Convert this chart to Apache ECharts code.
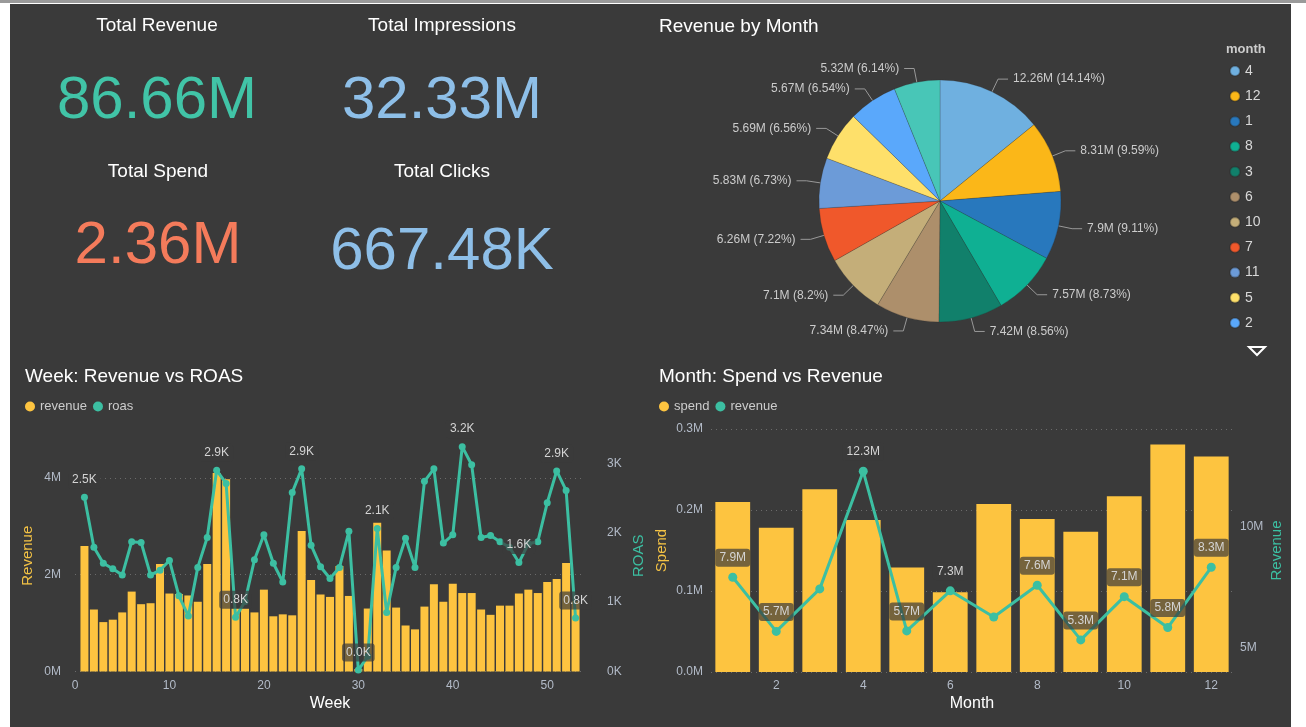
<!DOCTYPE html>
<html><head><meta charset="utf-8">
<script src="https://cdn.jsdelivr.net/npm/echarts@6/dist/echarts.min.js"></script>
<style>
html,body{margin:0;padding:0;background:#fff;width:1306px;height:727px;overflow:hidden}
#topline{position:absolute;left:0;top:0;width:1306px;height:3px;background:#9a9a9a}
#panel{position:absolute;left:10px;top:4px;width:1281px;height:723px;background:#3a3a3a}
#chart{position:absolute;left:0;top:0;width:1306px;height:727px}
</style></head><body>
<div id="topline"></div><div id="panel"></div><div id="chart"></div>
<script>
// ---------- data ----------
const kpiTitles = ['Total Revenue', 'Total Impressions', 'Total Spend', 'Total Clicks'];
const kpiValues = ['86.66M', '32.33M', '2.36M', '667.48K'];

const weeks = [1,2,3,4,5,6,7,8,9,10,11,12,13,14,15,16,17,18,19,20,21,22,23,24,25,26,27,28,29,30,31,32,33,34,35,36,37,38,39,40,41,42,43,44,45,46,47,48,49,50,51,52,53];
const weekRevenue = [2.59,1.28,1.02,1.07,1.22,1.65,1.39,1.41,2.22,1.61,1.60,1.57,1.44,2.22,4.10,3.97,1.30,1.30,1.22,1.69,1.14,1.18,1.16,2.90,1.89,1.59,1.54,2.18,1.56,0.05,1.30,3.07,2.50,1.32,0.95,0.87,1.34,1.80,1.44,1.81,1.62,1.62,1.28,1.17,1.36,1.36,1.61,1.69,1.62,1.85,1.91,2.24,1.45];
const weekRoas = [2.51,1.79,1.56,1.48,1.39,1.87,1.86,1.39,1.46,1.60,1.09,0.80,1.50,1.93,2.90,2.71,0.78,1.01,1.61,1.97,1.56,1.29,2.58,2.92,1.82,1.51,1.34,1.50,2.02,0.02,0.22,2.06,0.85,1.50,1.92,1.50,2.74,2.92,1.85,1.97,3.24,2.98,1.93,1.96,1.87,1.79,1.57,1.84,1.87,2.43,2.89,2.61,0.77];
const roasLabelWeeks = [1,15,17,24,30,32,41,47,51,53];

const months = ['1','2','3','4','5','6','7','8','9','10','11','12'];
const monthSpend = [0.2098,0.178,0.2257,0.1878,0.129,0.0984,0.2073,0.189,0.173,0.2171,0.2808,0.2661];
const monthRevenue = [7.9,5.67,7.42,12.26,5.69,7.34,6.26,7.57,5.32,7.1,5.83,8.31];
const monthUnlabeled = ['3','7'];

const pieMonths = ['4','12','1','8','3','6','10','7','11','5','2','9'];
const pieRevenue = [12.26,8.31,7.9,7.57,7.42,7.34,7.1,6.26,5.83,5.69,5.67,5.32];
const piePct = [14.14,9.59,9.11,8.73,8.56,8.47,8.2,7.22,6.73,6.56,6.54,6.14];
const pieColors = ['#6fb0e0','#fbb718','#2878bd','#0fb093','#11806b','#ad8f6b','#c4ae79','#f0582b','#6c9bd8','#fee06a','#5aa8fb','#48c6b7'];
const pieLegendMonths = ['4','12','1','8','3','6','10','7','11','5','2'];

// ---------- styles ----------
const FONT = "'Liberation Sans', Arial, sans-serif";
const YEL = '#fdc440', TEAL = '#3cbfa2', AX = '#b3bbc8', TXT = '#cccccc';
const kpiColors = ['#41c4a7', '#8ebfe8', '#f47b5b', '#8ebfe8'];
const kpiPos = [[157, 26, 101], [442, 26, 101], [158, 172, 246], [442, 172, 252]];
const labelBox = 'rgba(58,58,58,0.7)';

const graphics = [];
kpiTitles.forEach((t, i) => {
  graphics.push({type: 'text', x: kpiPos[i][0], y: kpiPos[i][1],
    style: {text: t, fill: '#ffffff', font: '19px ' + FONT, align: 'center', verticalAlign: 'middle'}});
  graphics.push({type: 'text', x: kpiPos[i][0], y: kpiPos[i][2],
    style: {text: kpiValues[i], fill: kpiColors[i], font: '60px ' + FONT, align: 'center', verticalAlign: 'middle'}});
});
graphics.push({type: 'text', x: 1226, y: 49, style: {text: 'month', fill: TXT, font: 'bold 13px ' + FONT, verticalAlign: 'middle'}});
graphics.push({type: 'polygon', shape: {points: [[1249, 347], [1265, 347], [1257, 355]]},
  style: {fill: 'none', stroke: '#ffffff', lineWidth: 2}});

const chart = echarts.init(document.getElementById('chart'), null, {renderer: 'canvas'});

const axisLabelBase = {color: AX, fontSize: 12, fontFamily: FONT};
const dotted = {show: true, lineStyle: {type: [1, 4], color: 'rgba(255,255,255,0.25)', width: 1}};
const noLine = {show: false};

const option = {
  backgroundColor: 'transparent',
  textStyle: {fontFamily: FONT},
  animation: false,
  graphic: graphics,
  title: [
    {text: 'Revenue by Month', left: 654, top: 12, textStyle: {color: '#fff', fontSize: 19, fontWeight: 'normal', fontFamily: FONT}},
    {text: 'Week: Revenue vs ROAS', left: 20, top: 362, textStyle: {color: '#fff', fontSize: 19, fontWeight: 'normal', fontFamily: FONT}},
    {text: 'Month: Spend vs Revenue', left: 654, top: 362, textStyle: {color: '#fff', fontSize: 19, fontWeight: 'normal', fontFamily: FONT}}
  ],
  legend: [
    {left: 20, top: 395, itemWidth: 10, itemHeight: 10, itemGap: 6, icon: 'circle',
      textStyle: {color: TXT, fontSize: 13, fontFamily: FONT},
      data: [{name: 'revenue', itemStyle: {color: YEL}}, {name: 'roas', itemStyle: {color: TEAL}}]},
    {left: 654, top: 395, itemWidth: 10, itemHeight: 10, itemGap: 6, icon: 'circle',
      textStyle: {color: TXT, fontSize: 13, fontFamily: FONT},
      data: [{name: 'spend', itemStyle: {color: YEL}}, {name: 'revenue', itemStyle: {color: TEAL}}]},
    {orient: 'vertical', left: 1224, top: 59, itemWidth: 10, itemHeight: 10, itemGap: 11.2, icon: 'circle',
      textStyle: {color: '#d8d8d8', fontSize: 14, fontFamily: FONT},
      data: pieLegendMonths.map(m => ({name: m, itemStyle: {color: pieColors[pieMonths.indexOf(m)]}}))}
  ],
  grid: [
    {left: 75, right: 721, top: 440, bottom: 55.5},
    {left: 711, right: 73, top: 429, bottom: 55}
  ],
  xAxis: [
    {type: 'value', gridIndex: 0, min: 0, max: 54, interval: 10,
      axisLine: noLine, axisTick: noLine, splitLine: noLine,
      axisLabel: Object.assign({}, axisLabelBase, {margin: 8, formatter: v => (v % 10 === 0 ? String(v) : '')}),
      name: 'Week', nameLocation: 'middle', nameGap: 24, nameTextStyle: {color: '#fff', fontSize: 16, fontFamily: FONT}},
    {type: 'category', gridIndex: 1, data: months,
      axisLine: noLine, axisTick: noLine,
      axisLabel: Object.assign({}, axisLabelBase, {margin: 8, interval: i => i % 2 === 1}),
      name: 'Month', nameLocation: 'middle', nameGap: 24, nameTextStyle: {color: '#fff', fontSize: 16, fontFamily: FONT}}
  ],
  yAxis: [
    {type: 'value', gridIndex: 0, min: 0, max: 4.78, interval: 2,
      axisLine: noLine, axisTick: noLine,
      axisLabel: Object.assign({}, axisLabelBase, {margin: 14, formatter: v => (Math.abs(v % 2) < 1e-9 ? v + 'M' : '')}),
      splitLine: Object.assign({}, dotted, {showMaxLine: false}),
      name: 'Revenue', nameLocation: 'middle', nameGap: 40, nameTextStyle: {color: '#f3c245', fontSize: 15, fontFamily: FONT}},
    {type: 'value', gridIndex: 0, min: 0, max: 3.336, interval: 1, position: 'right',
      axisLine: noLine, axisTick: noLine,
      axisLabel: Object.assign({}, axisLabelBase, {margin: 22, formatter: v => (Math.abs(v % 1) < 1e-9 ? v + 'K' : '')}),
      splitLine: noLine,
      name: 'ROAS', nameLocation: 'middle', nameGap: 46, nameTextStyle: {color: TEAL, fontSize: 15, fontFamily: FONT}},
    {type: 'value', gridIndex: 1, min: 0, max: 0.3, interval: 0.1,
      axisLine: noLine, axisTick: noLine,
      axisLabel: Object.assign({}, axisLabelBase, {margin: 8, formatter: v => v.toFixed(1) + 'M'}),
      splitLine: dotted,
      name: 'Spend', nameLocation: 'middle', nameGap: 42, nameTextStyle: {color: '#f3c245', fontSize: 15, fontFamily: FONT}},
    {type: 'value', gridIndex: 1, min: 4, max: 14, interval: 1, position: 'right',
      axisLine: noLine, axisTick: noLine,
      axisLabel: Object.assign({}, axisLabelBase, {margin: 7, formatter: v => (v === 5 || v === 10 ? v + 'M' : '')}),
      splitLine: noLine,
      name: 'Revenue', nameLocation: 'middle', nameGap: 36, nameTextStyle: {color: TEAL, fontSize: 15, fontFamily: FONT}}
  ],
  series: [
    {name: 'revenue', type: 'bar', xAxisIndex: 0, yAxisIndex: 0, barWidth: 8,
      itemStyle: {color: YEL}, data: weeks.map((w, i) => [w, weekRevenue[i]])},
    {name: 'roas', type: 'line', xAxisIndex: 0, yAxisIndex: 1, symbol: 'circle', symbolSize: 7,
      lineStyle: {color: TEAL, width: 3}, itemStyle: {color: TEAL}, z: 3,
      data: weeks.map((w, i) => ({
        value: [w, weekRoas[i]],
        label: {show: roasLabelWeeks.indexOf(w) >= 0}
      })),
      label: {position: 'top', distance: 5, color: '#d4d4d4', fontSize: 12, fontFamily: FONT,
        backgroundColor: labelBox, padding: [3, 4], borderRadius: 3,
        formatter: p => p.value[1].toFixed(1) + 'K'}},
    {name: 'spend', type: 'bar', xAxisIndex: 1, yAxisIndex: 2, barWidth: '80%',
      itemStyle: {color: YEL}, data: monthSpend},
    {name: 'revenue', type: 'line', xAxisIndex: 1, yAxisIndex: 3, symbol: 'circle', symbolSize: 9,
      lineStyle: {color: TEAL, width: 3}, itemStyle: {color: TEAL}, z: 3,
      data: months.map((m, i) => ({value: monthRevenue[i], label: {show: monthUnlabeled.indexOf(m) < 0}})),
      label: {position: 'top', distance: 6, color: '#d4d4d4', fontSize: 12, fontFamily: FONT,
        backgroundColor: labelBox, padding: [3, 4], borderRadius: 3,
        formatter: p => p.value.toFixed(1) + 'M'}},
    {name: 'Revenue by Month', type: 'pie', center: [940, 201], radius: 121, startAngle: 90, clockwise: true,
      avoidLabelOverlap: true,
      itemStyle: {borderColor: 'rgba(40,40,40,0.35)', borderWidth: 0.6},
      label: {color: TXT, fontSize: 12, fontFamily: FONT,
        formatter: p => pieRevenue[p.dataIndex] + 'M (' + piePct[p.dataIndex] + '%)'},
      labelLine: {length: 14, length2: 10, lineStyle: {color: '#999', width: 1}},
      data: pieMonths.map((m, i) => ({name: m, value: pieRevenue[i], itemStyle: {color: pieColors[i]}}))}
  ]
};
chart.setOption(option);
</script>
</body></html>
